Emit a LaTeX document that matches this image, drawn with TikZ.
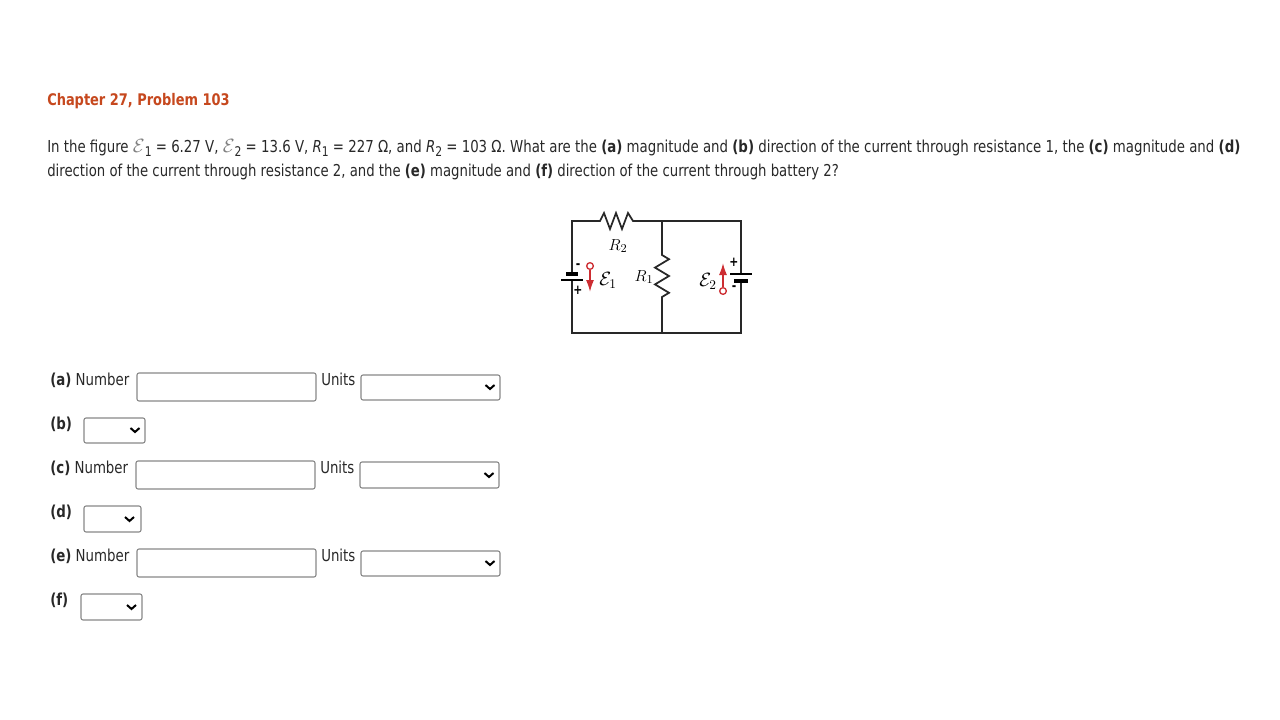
\documentclass[tikz,border=0pt]{standalone}
\usepackage{fontspec}
\setmainfont[FakeStretch=0.9]{DejaVu Sans Condensed}
\usetikzlibrary{arrows.meta}
\definecolor{titlered}{RGB}{198,72,30}
\definecolor{bodytext}{RGB}{40,40,40}
\definecolor{boxgray}{RGB}{135,135,135}
\definecolor{arrowred}{RGB}{205,45,50}
\definecolor{wiregray}{RGB}{40,40,40}
\newcommand{\emf}[1]{$\mathcal{E}_{#1}$}
\newcommand{\lowsub}[1]{\raisebox{-3pt}{\fontsize{10pt}{10pt}\selectfont #1}}
\newcommand{\textemf}[1]{{\color{gray}\fontsize{15.5pt}{16pt}\selectfont$\mathcal{E}$}\lowsub{#1}}
\tikzset{
  bodyline/.style={anchor=base west, inner sep=0pt, text=bodytext, font=\fontsize{12.35pt}{14pt}\selectfont},
  titleline/.style={anchor=base west, inner sep=0pt, text=titlered, font=\fontsize{12pt}{14pt}\selectfont\bfseries},
  fieldbox/.style={draw=boxgray, line width=0.8pt, rounded corners=1.5pt},
  chevron/.style={draw=black, line width=1.5pt},
  wire/.style={draw=wiregray, line width=1.3pt},
  thickplate/.style={draw=black, line width=3.2pt},
  thinplate/.style={draw=black, line width=1.5pt},
  emfarrow/.style={draw=arrowred, line width=1.2pt, -{Latex[length=9pt,width=6pt]}},
  emfring/.style={circle, draw=arrowred, line width=1pt, inner sep=0pt, minimum size=5pt},
  circlabel/.style={inner sep=0pt, text=black, font=\fontsize{12.5pt}{14pt}\selectfont},
  emflabel/.style={inner sep=0pt, text=black, font=\fontsize{14pt}{15pt}\selectfont},
  signlabel/.style={inner sep=0pt, text=black, font=\fontsize{10pt}{11pt}\selectfont\bfseries}
}
\begin{document}
\begin{tikzpicture}[x=0.75pt, y=-0.75pt]
    \useasboundingbox (0,0) rectangle (1280,720);

    % Question text
    \node[titleline] (title) at (47,106) {Chapter 27, Problem 103};
    \node[bodyline] (lineone) at (47,153) {In the figure \textemf{1} = 6.27 V, \textemf{2} = 13.6 V, \textit{R}\lowsub{1} = 227 Ω, and \textit{R}\lowsub{2} = 103 Ω. What are the \textbf{(a)} magnitude and \textbf{(b)} direction of the current through resistance 1, the \textbf{(c)} magnitude and \textbf{(d)}};
    \node[bodyline, font=\fontsize{12.28pt}{14pt}\selectfont] (linetwo) at (47,177) {direction of the current through resistance 2, and the \textbf{(e)} magnitude and \textbf{(f)} direction of the current through battery 2?};

    % Circuit corners
    \coordinate (tl) at (572,221);
    \coordinate (tr) at (741,221);
    \coordinate (bl) at (572,333);
    \coordinate (br) at (741,333);
    \coordinate (tm) at (662,221);
    \coordinate (bm) at (662,333);

    % Wires with the two resistors
    \draw[wire] (572,274) -- (tl) -- (600,221) -- ++(4,-8) -- ++(6,16) -- ++(6,-16) -- ++(6,16) -- ++(6,-16) -- ++(5,8) -- (tm) -- (tr) -- (741,274);
    \draw[wire] (741,281) -- (br) -- (bm) -- (bl) -- (572,280);
    \draw[wire] (tm) -- (662,255) -- ++(7,4.2) -- ++(-14,8.4) -- ++(14,8.4) -- ++(-14,8.4) -- ++(14,8.4) -- (662,297) -- (bm);

    % Batteries
    \draw[thickplate] (566,274) -- (578,274);
    \draw[thinplate] (561,280) -- (583,280);
    \draw[thinplate] (730,274) -- (752,274);
    \draw[thickplate] (734,281) -- (748,281);
    \node[signlabel] (minusone) at (578,266) {-};
    \node[signlabel] (plusone) at (578,290) {+};
    \node[signlabel] (plustwo) at (734,262) {+};
    \node[signlabel] (minustwo) at (734,288) {-};

    % Emf arrows
    \node[emfring] (ringone) at (590,266) {};
    \coordinate (tipone) at (590,292);
    \draw[emfarrow] (ringone) -- (tipone);
    \node[emfring] (ringtwo) at (723,291) {};
    \coordinate (tiptwo) at (723,263);
    \draw[emfarrow] (ringtwo) -- (tiptwo);

    % Circuit labels
    \node[emflabel] (labelemfone) at (608,280) {\emf{1}};
    \node[emflabel] (labelemftwo) at (708,281) {\emf{2}};
    \node[circlabel] (labelrone) at (644,277) {$R_1$};
    \node[circlabel] (labelrtwo) at (618,246) {$R_2$};

    % Answer rows
    \node[bodyline] (labela) at (50,385) {\textbf{(a)} Number};
    \node[bodyline] (unitsa) at (321,385) {Units};
    \node[bodyline] (labelb) at (50,429) {\textbf{(b)}};
    \node[bodyline] (labelc) at (50,473) {\textbf{(c)} Number};
    \node[bodyline] (unitsc) at (320,473) {Units};
    \node[bodyline] (labeld) at (50,517) {\textbf{(d)}};
    \node[bodyline] (labele) at (50,561) {\textbf{(e)} Number};
    \node[bodyline] (unitse) at (321,561) {Units};
    \node[bodyline] (labelf) at (50,605) {\textbf{(f)}};

    % Input boxes
    \draw[fieldbox] (137,373) rectangle (316,401);
    \draw[fieldbox] (136,461) rectangle (315,489);
    \draw[fieldbox] (137,549) rectangle (316,577);

    % Drop-down boxes
    \draw[fieldbox] (361,375) rectangle (500,400);
    \draw[fieldbox] (84,418) rectangle (145,443);
    \draw[fieldbox] (360,462) rectangle (499,488);
    \draw[fieldbox] (84,506) rectangle (141,532);
    \draw[fieldbox] (361,551) rectangle (500,576);
    \draw[fieldbox] (81,594) rectangle (142,620);

    % Drop-down marks
    \draw[chevron] (485.5,385) -- ++(4.5,4) -- ++(4.5,-4);
    \draw[chevron] (130.5,428) -- ++(4.5,4) -- ++(4.5,-4);
    \draw[chevron] (484.5,473) -- ++(4.5,4) -- ++(4.5,-4);
    \draw[chevron] (125,517) -- ++(4.5,4) -- ++(4.5,-4);
    \draw[chevron] (485.5,561) -- ++(4.5,4) -- ++(4.5,-4);
    \draw[chevron] (127,605) -- ++(4.5,4) -- ++(4.5,-4);
\end{tikzpicture}
\end{document}
